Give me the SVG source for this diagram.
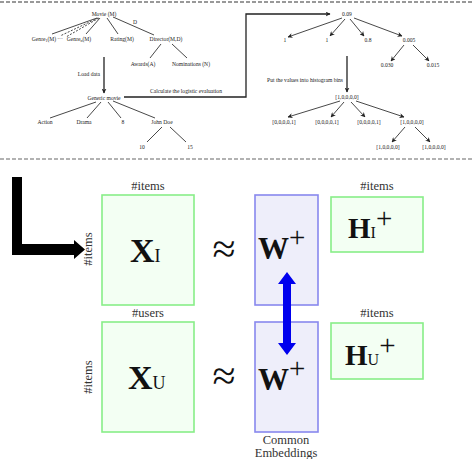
<svg xmlns="http://www.w3.org/2000/svg" width="474" height="459" viewBox="0 0 474 459">
<style>
.t{font-family:"Liberation Serif","DejaVu Serif",serif;font-size:5.6px;fill:#222;text-anchor:middle}
.tl{font-family:"Liberation Serif","DejaVu Serif",serif;font-size:5.6px;fill:#222;text-anchor:end}
.ln{stroke:#333;stroke-width:0.9;fill:none}
.lnb{stroke:#222;stroke-width:1.3;fill:none}
.dsh{stroke:#999;stroke-width:2;stroke-dasharray:4,2;fill:none}
.lab{font-family:"Liberation Serif","DejaVu Serif",serif;font-size:12.5px;fill:#333;text-anchor:middle}
.gbox{fill:#f3fff3;stroke:#88ee88;stroke-width:1.6}
.bbox{fill:#eeeefa;stroke:#8888ee;stroke-width:1.6}
.big{font-family:"Liberation Serif","DejaVu Serif",serif;font-weight:bold;fill:#111}
.apx{font-family:"Liberation Serif","DejaVu Serif",serif;font-size:42px;fill:#111;text-anchor:middle}
</style>
<defs>
<marker id="ah" viewBox="0 0 10 10" refX="9" refY="5" markerWidth="5" markerHeight="5" orient="auto" markerUnits="userSpaceOnUse">
<path d="M0,0 L10,5 L0,10 L3,5 Z" fill="#222"/>
</marker>
</defs>
<rect width="474" height="459" fill="#fff"/>
<line class="dsh" x1="0" y1="2" x2="474" y2="2"/>
<line class="dsh" x1="0" y1="159" x2="474" y2="159" style="stroke-width:1.5"/>

<g id="tree-left">
<text class="t" x="104" y="16">Movie (M)</text>
<text class="t" x="135" y="24">D</text>
<text class="t" x="44" y="41">Genre<tspan font-size="4" dy="1">1</tspan><tspan dy="-1">(M)</tspan></text>
<text class="t" x="60" y="41">···</text>
<text class="t" x="79" y="41">Genre<tspan font-size="4" dy="1">n</tspan><tspan dy="-1">(M)</tspan></text>
<text class="t" x="122" y="41">Rating(M)</text>
<text class="t" x="166" y="41">Director(M,D)</text>
<text class="t" x="143" y="66">Awards(A)</text>
<text class="t" x="191" y="66">Nominations (N)</text>
<text class="tl" x="100" y="76">Load data</text>
<text class="t" x="104" y="100">Generic movie</text>
<text class="t" x="186" y="93">Calculate the logistic evaluation</text>
<text class="t" x="45" y="124">Action</text>
<text class="t" x="84" y="124">Drama</text>
<text class="t" x="123" y="124">8</text>
<text class="t" x="162" y="124">John Doe</text>
<text class="t" x="142" y="149">10</text>
<text class="t" x="190" y="149">15</text>
</g>

<g id="tree-right">
<text class="t" x="347" y="16">0.09</text>
<text class="t" x="285" y="42">1</text>
<text class="t" x="327" y="42">1</text>
<text class="t" x="368" y="42">0.8</text>
<text class="t" x="409" y="42">0.005</text>
<text class="t" x="387" y="67">0.030</text>
<text class="t" x="433" y="67">0.015</text>
<text class="tl" x="343" y="82">Put the values into histogram bins</text>
<text class="t" x="347" y="99">[1,0,0,0,0]</text>
<text class="t" x="284" y="124">[0,0,0,0,1]</text>
<text class="t" x="327" y="124">[0,0,0,0,1]</text>
<text class="t" x="369" y="124">[0,0,0,0,1]</text>
<text class="t" x="412" y="124">[1,0,0,0,0]</text>
<text class="t" x="388" y="149">[1,0,0,0,0]</text>
<text class="t" x="434" y="149">[1,0,0,0,0]</text>
</g>

<g id="XI">
<text class="lab" x="148" y="190">#items</text>
<rect class="gbox" x="102" y="195" width="92" height="110"/>
<text class="lab" transform="translate(92,249) rotate(-90)">#items</text>
<text class="big" x="130" y="262" font-size="34">X<tspan font-weight="normal" font-size="18">I</tspan></text>
</g>
<text class="apx" x="224" y="263">≈</text>
<g id="W1">
<rect class="bbox" x="255" y="195" width="63" height="110"/>
<text class="big" x="258" y="259" font-size="31">W<tspan font-weight="normal" font-size="29" dy="-12">+</tspan></text>
</g>
<g id="HI">
<text class="lab" x="377" y="190">#items</text>
<rect class="gbox" x="331" y="197" width="92" height="55"/>
<text class="big" x="348" y="238" font-size="29">H<tspan font-weight="normal" font-size="16">I</tspan><tspan font-weight="normal" font-size="29" dy="-10">+</tspan></text>
</g>

<g id="XU">
<text class="lab" x="148" y="317">#users</text>
<rect class="gbox" x="102" y="322" width="92" height="110"/>
<text class="lab" transform="translate(92,377) rotate(-90)">#items</text>
<text class="big" x="128" y="389" font-size="34">X<tspan font-weight="normal" font-size="18">U</tspan></text>
</g>
<text class="apx" x="224" y="390">≈</text>
<g id="W2">
<rect class="bbox" x="255" y="322" width="63" height="110"/>
<text class="big" x="258" y="390" font-size="31">W<tspan font-weight="normal" font-size="29" dy="-12">+</tspan></text>
<text class="lab" x="286" y="444">Common</text>
<text class="lab" x="286" y="457">Embeddings</text>
</g>
<g id="HU">
<text class="lab" x="377" y="317">#items</text>
<rect class="gbox" x="331" y="323" width="92" height="56"/>
<text class="big" x="345" y="365" font-size="29">H<tspan font-weight="normal" font-size="16">U</tspan><tspan font-weight="normal" font-size="29" dy="-10">+</tspan></text>
</g>

<g id="connectors">
<line class="ln" x1="97" y1="18" x2="52" y2="34"/>
<line class="ln" x1="98" y1="18" x2="60" y2="36" stroke-dasharray="2,1.5"/>
<line class="ln" x1="99" y1="18" x2="66" y2="37" stroke-dasharray="2,1.5"/>
<line class="ln" x1="100" y1="18" x2="86" y2="34"/>
<line class="ln" x1="107" y1="18" x2="118" y2="34"/>
<line class="ln" x1="113" y1="17" x2="154" y2="35"/>
<line class="ln" x1="161" y1="44" x2="150" y2="58"/>
<line class="ln" x1="172" y1="44" x2="187" y2="58"/>
<line class="lnb" x1="104" y1="57" x2="104" y2="93" marker-end="url(#ah)"/>
<line class="ln" x1="96" y1="102" x2="50" y2="118"/>
<line class="ln" x1="101" y1="102" x2="87" y2="118"/>
<line class="ln" x1="108" y1="102" x2="121" y2="118"/>
<line class="ln" x1="113" y1="101" x2="155" y2="118"/>
<line class="ln" x1="162" y1="127" x2="147" y2="142"/>
<line class="ln" x1="170" y1="127" x2="186" y2="142"/>
<polyline class="lnb" points="124,97 246,97 246,14 330,14" marker-end="url(#ah)"/>
<line class="ln" x1="342" y1="18" x2="288" y2="37" marker-end="url(#ah)"/>
<line class="ln" x1="345" y1="19" x2="330" y2="36" marker-end="url(#ah)"/>
<line class="ln" x1="350" y1="19" x2="364" y2="36" marker-end="url(#ah)"/>
<line class="ln" x1="354" y1="18" x2="402" y2="36" marker-end="url(#ah)"/>
<line class="ln" x1="404" y1="45" x2="391" y2="61" marker-end="url(#ah)"/>
<line class="ln" x1="413" y1="45" x2="429" y2="61" marker-end="url(#ah)"/>
<line class="lnb" x1="347" y1="56" x2="347" y2="92" marker-end="url(#ah)"/>
<line class="ln" x1="340" y1="101" x2="288" y2="117" marker-end="url(#ah)"/>
<line class="ln" x1="344" y1="102" x2="331" y2="117" marker-end="url(#ah)"/>
<line class="ln" x1="351" y1="102" x2="365" y2="117" marker-end="url(#ah)"/>
<line class="ln" x1="356" y1="101" x2="404" y2="117" marker-end="url(#ah)"/>
<line class="ln" x1="405" y1="127" x2="392" y2="142" marker-end="url(#ah)"/>
<line class="ln" x1="415" y1="127" x2="430" y2="142" marker-end="url(#ah)"/>
<path d="M12,177 L22,177 L22,244 L74,244 L74,240 L85,249.5 L74,259 L74,255 L12,255 Z" fill="#000"/>
<path d="M287,272 L296,284 L291,284 L291,343 L296,343 L287,355 L278,343 L283,343 L283,284 L278,284 Z" fill="#0000ee"/>
</g>
</svg>
